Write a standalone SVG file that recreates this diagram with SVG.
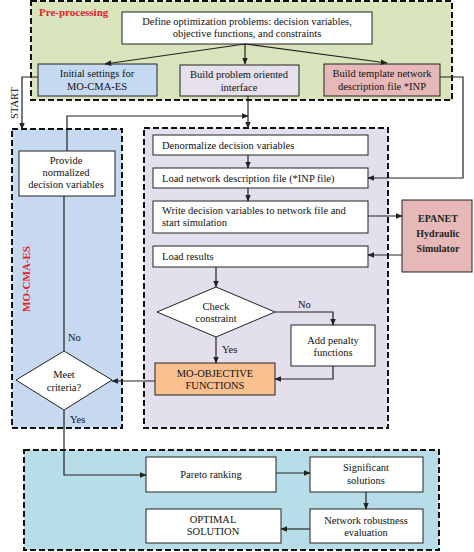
<svg xmlns="http://www.w3.org/2000/svg" width="474" height="552" viewBox="0 0 474 552">
<defs>
<style>
text{font-family:"Liberation Serif","Times New Roman",serif;font-size:10.5px;fill:#111;}
.c{text-anchor:middle;}
.b{font-weight:bold;font-size:10px;fill:#222;}
.red{fill:#e8202a;font-weight:bold;font-size:11px;}
.panel{stroke:#111;stroke-width:2;stroke-dasharray:6 3;}
.box{stroke:#222;stroke-width:1;}
.ln{fill:none;stroke:#222;stroke-width:1.2;}
</style>
<marker id="ah" viewBox="0 0 10 10" refX="9" refY="5" markerWidth="7" markerHeight="7" orient="auto" markerUnits="userSpaceOnUse">
<path d="M0,1 L10,5 L0,9 z" fill="#222"/>
</marker>
</defs>
<rect width="474" height="552" fill="#fff"/>

<g id="panel-pre"><rect class="panel" x="31" y="1" width="421" height="99" fill="#d8e4bc"/>
<text class="red" x="39" y="16">Pre-processing</text></g>
<g id="panel-mocma"><rect class="panel" x="12" y="129" width="110" height="299" fill="#c6d9f0"/>
<text class="red c" transform="translate(30,279) rotate(-90)">MO-CMA-ES</text></g>
<g id="panel-eval"><rect class="panel" x="144" y="128" width="244" height="300" fill="#e4dfec"/></g>
<g id="panel-post"><rect class="panel" x="24" y="450" width="415" height="100" fill="#b7dee8"/></g>

<g id="define"><rect class="box" x="122" y="12" width="250" height="32" fill="#fff"/>
<text class="c" x="247" y="25">Define optimization problems: decision variables,</text>
<text class="c" x="247" y="37">objective functions, and constraints</text></g>
<g id="initial"><rect class="box" x="38" y="64" width="119" height="32" fill="#c5d9f1"/>
<text class="c" x="97" y="77">Initial settings for</text>
<text class="c" x="97" y="90">MO-CMA-ES</text></g>
<g id="interface"><rect class="box" x="180" y="65" width="119" height="31" fill="#e5e0ec"/>
<text class="c" x="239" y="78">Build problem oriented</text>
<text class="c" x="239" y="91">interface</text></g>
<g id="template"><rect class="box" x="324" y="64" width="116" height="32" fill="#e6b9b8"/>
<text class="c" x="382" y="77">Build template network</text>
<text class="c" x="382" y="90">description file *INP</text></g>
<g id="start-label"><text class="c" transform="translate(18,103) rotate(-90)">START</text></g>

<g id="provide"><rect class="box" x="19" y="151" width="96" height="45" fill="#fff"/>
<text class="c" x="66" y="164">Provide</text>
<text class="c" x="66" y="176">normalized</text>
<text class="c" x="66" y="188">decision variables</text></g>
<g id="meet"><path class="box" d="M64,351 L112,380 L64,410 L16,380 z" fill="#fff"/>
<text class="c" x="64" y="378">Meet</text>
<text class="c" x="64" y="391">criteria?</text></g>

<g id="denorm"><rect class="box" x="153" y="135" width="215" height="20" fill="#fff"/>
<text x="162" y="149">Denormalize decision variables</text></g>
<g id="loadnet"><rect class="box" x="153" y="168" width="215" height="20" fill="#fff"/>
<text x="162" y="182">Load network description file (*INP file)</text></g>
<g id="write"><rect class="box" x="153" y="201" width="215" height="32" fill="#fff"/>
<text x="162" y="214">Write decision variables to network file and</text>
<text x="162" y="226">start simulation</text></g>
<g id="loadres"><rect class="box" x="153" y="246" width="215" height="21" fill="#fff"/>
<text x="162" y="260">Load results</text></g>
<g id="check"><path class="box" d="M216,287 L275,312 L216,337 L157,312 z" fill="#fff"/>
<text class="c" x="216" y="310">Check</text>
<text class="c" x="216" y="322">constraint</text></g>
<g id="penalty"><rect class="box" x="291" y="325" width="84" height="41" fill="#fff"/>
<text class="c" x="333" y="344">Add penalty</text>
<text class="c" x="333" y="356">functions</text></g>
<g id="moobj"><rect class="box" x="155" y="363" width="120" height="32" fill="#fac090"/>
<text class="c" x="215" y="377">MO-OBJECTIVE</text>
<text class="c" x="215" y="389">FUNCTIONS</text></g>
<g id="epanet"><rect class="box" x="402" y="200" width="70" height="72" fill="#e6b9b8"/>
<text class="c b" x="438" y="222">EPANET</text>
<text class="c b" x="438" y="237">Hydraulic</text>
<text class="c b" x="438" y="252">Simulator</text></g>

<g id="pareto"><rect class="box" x="146" y="457" width="130" height="35" fill="#fff"/>
<text class="c" x="211" y="478">Pareto ranking</text></g>
<g id="signif"><rect class="box" x="310" y="457" width="113" height="35" fill="#fff"/>
<text class="c" x="366" y="471">Significant</text>
<text class="c" x="366" y="484">solutions</text></g>
<g id="robust"><rect class="box" x="310" y="509" width="113" height="34" fill="#fff"/>
<text class="c" x="366" y="524">Network robustness</text>
<text class="c" x="366" y="536">evaluation</text></g>
<g id="optimal"><rect class="box" x="146" y="509" width="135" height="34" fill="#fff"/>
<text class="c" x="213" y="523">OPTIMAL</text>
<text class="c" x="213" y="535">SOLUTION</text></g>

<g id="connectors">
<path class="ln" d="M245,44 L105,64" marker-end="url(#ah)"/>
<path class="ln" d="M245,44 L245,64" marker-end="url(#ah)"/>
<path class="ln" d="M245,44 L387,63" marker-end="url(#ah)"/>
<path class="ln" d="M38,77 L22,77 L22,129" marker-end="url(#ah)"/>
<path class="ln" d="M248,96 L248,128" marker-end="url(#ah)"/>
<path class="ln" d="M67,151 L67,116 L248,116" marker-end="url(#ah)"/>
<path class="ln" d="M440,77 L463,77 L463,178 L368,178" marker-end="url(#ah)"/>
<path class="ln" d="M248,155 L248,168" marker-end="url(#ah)"/>
<path class="ln" d="M248,188 L248,201" marker-end="url(#ah)"/>
<path class="ln" d="M368,216 L402,216" marker-end="url(#ah)"/>
<path class="ln" d="M402,255 L368,255" marker-end="url(#ah)"/>
<path class="ln" d="M216,267 L216,287" marker-end="url(#ah)"/>
<path class="ln" d="M275,312 L333,312 L333,325" marker-end="url(#ah)"/>
<path class="ln" d="M216,337 L216,363" marker-end="url(#ah)"/>
<path class="ln" d="M333,366 L333,379 L275,379" marker-end="url(#ah)"/>
<path class="ln" d="M155,381 L112,381" marker-end="url(#ah)"/>
<path class="ln" d="M64,196 L64,351"/>
<path class="ln" d="M64,410 L64,475 L146,475" marker-end="url(#ah)"/>
<path class="ln" d="M276,473 L310,473" marker-end="url(#ah)"/>
<path class="ln" d="M366,492 L366,509" marker-end="url(#ah)"/>
<path class="ln" d="M310,529 L281,529" marker-end="url(#ah)"/>
<text x="298" y="308">No</text>
<text x="222" y="353">Yes</text>
<text x="68" y="341">No</text>
<text x="70" y="423">Yes</text>
</g>
</svg>
